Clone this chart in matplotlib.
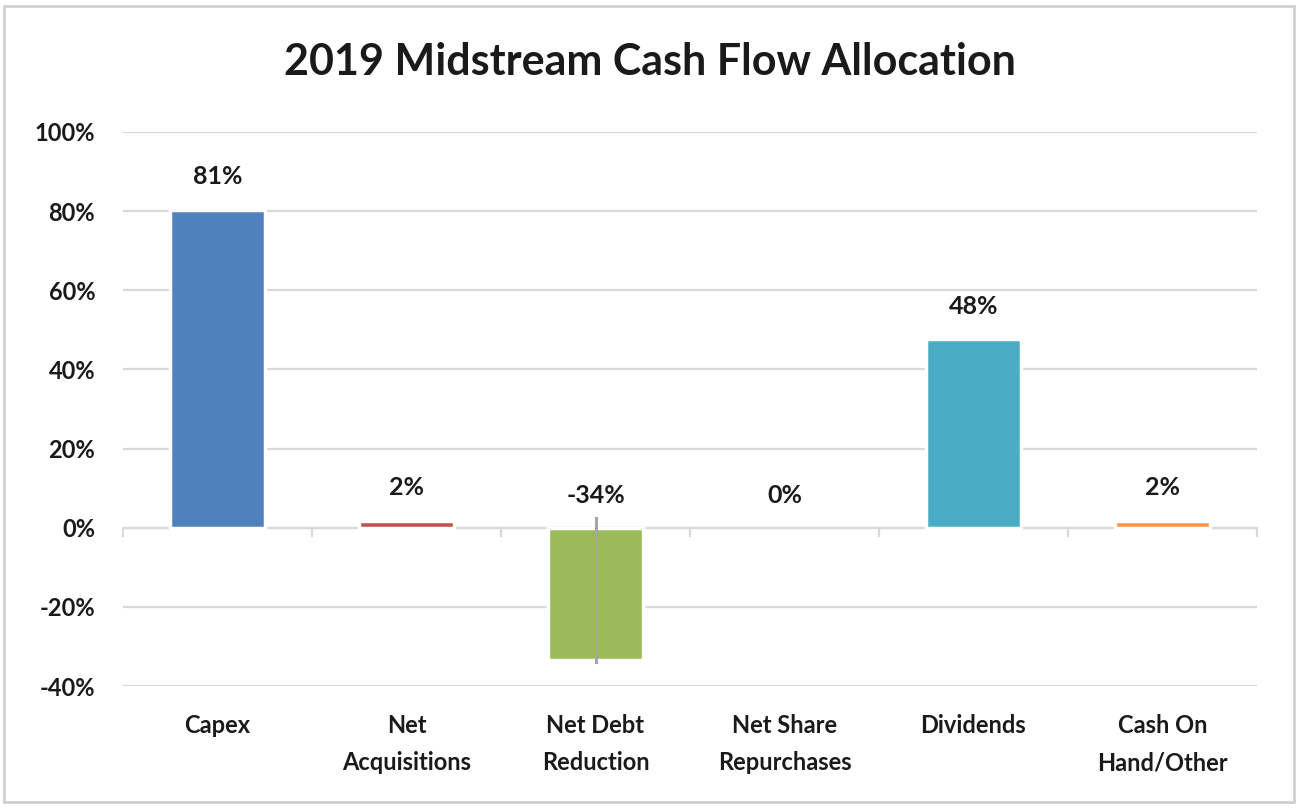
import matplotlib
matplotlib.use('Agg')
import matplotlib.pyplot as plt
from matplotlib.patches import Rectangle
import numpy as np

categories = ['Capex', 'Net\nAcquisitions', 'Net Debt\nReduction', 'Net Share\nRepurchases',
              'Dividends', 'Cash On\nHand/Other']
values = [80.4, 1.8, -33.4, 0.0, 47.6, 1.8]
labels = ['81%', '2%', '-34%', '0%', '48%', '2%']
colors = ['#4F81BD', '#C0504D', '#9BBB59', '#8064A2', '#4BACC6', '#F79646']
yticks = [-40, -20, 0, 20, 40, 60, 80, 100]
# grey vertical line drawn through the Net Debt Reduction bar
line_top = 2.5
line_bottom = -34.0

plt.rcParams['font.family'] = ['Lato', 'DejaVu Sans']

fig = plt.figure(figsize=(13, 8.08), dpi=100)
ax = fig.add_axes([123 / 1300, 122 / 808, (1257 - 123) / 1300, (686 - 132) / 808])

x = np.arange(len(categories))
edge_w = [2.5 if v != 0 else 0 for v in values]
ax.bar(x, values, width=0.5, color=colors, edgecolor='white', linewidth=edge_w, zorder=3)

ax.plot([2, 2], [line_top, line_bottom], color='#A6A6A6', linewidth=2.2, zorder=4)

for xi, v, lab in zip(x, values, labels):
    ax.annotate(lab, (xi, max(v, 0)), xytext=(0, 23.5), textcoords='offset points',
                ha='center', va='center', fontsize=18, fontweight='bold', color='#1a1a1a')

ax.set_xlim(-0.5, len(categories) - 0.5)
ax.set_ylim(-40, 100)
ax.set_yticks(yticks)
ax.set_yticklabels([f'{t}%' for t in yticks], fontsize=17, fontweight='bold', color='#1a1a1a')
ax.yaxis.grid(True, color='#D9D9D9', linewidth=1.6, zorder=0)
ax.tick_params(axis='y', length=0, pad=20)

ax.set_xticks(x)
ax.set_xticklabels(categories, fontsize=17, fontweight='bold', color='#1a1a1a', linespacing=1.75)
ax.tick_params(axis='x', length=0, pad=20)
for b in np.arange(-0.5, len(categories), 1.0):
    ax.plot([b, b], [0, -2], color='#D9D9D9', linewidth=1.6, zorder=2, clip_on=False)
ax.axhline(0, color='#D9D9D9', linewidth=1.6, zorder=2)

for s in ax.spines.values():
    s.set_visible(False)

fig.text(0.5, 1 - 62 / 808, '2019 Midstream Cash Flow Allocation', ha='center', va='center',
         fontsize=31, fontweight='bold', color='#1a1a1a')

fig.patches.append(Rectangle((4 / 1300, 6 / 808), 1290 / 1300, 796 / 808, transform=fig.transFigure,
                             fill=False, edgecolor='#D0D0D0', linewidth=2))

fig.savefig('out.png', dpi=100)
